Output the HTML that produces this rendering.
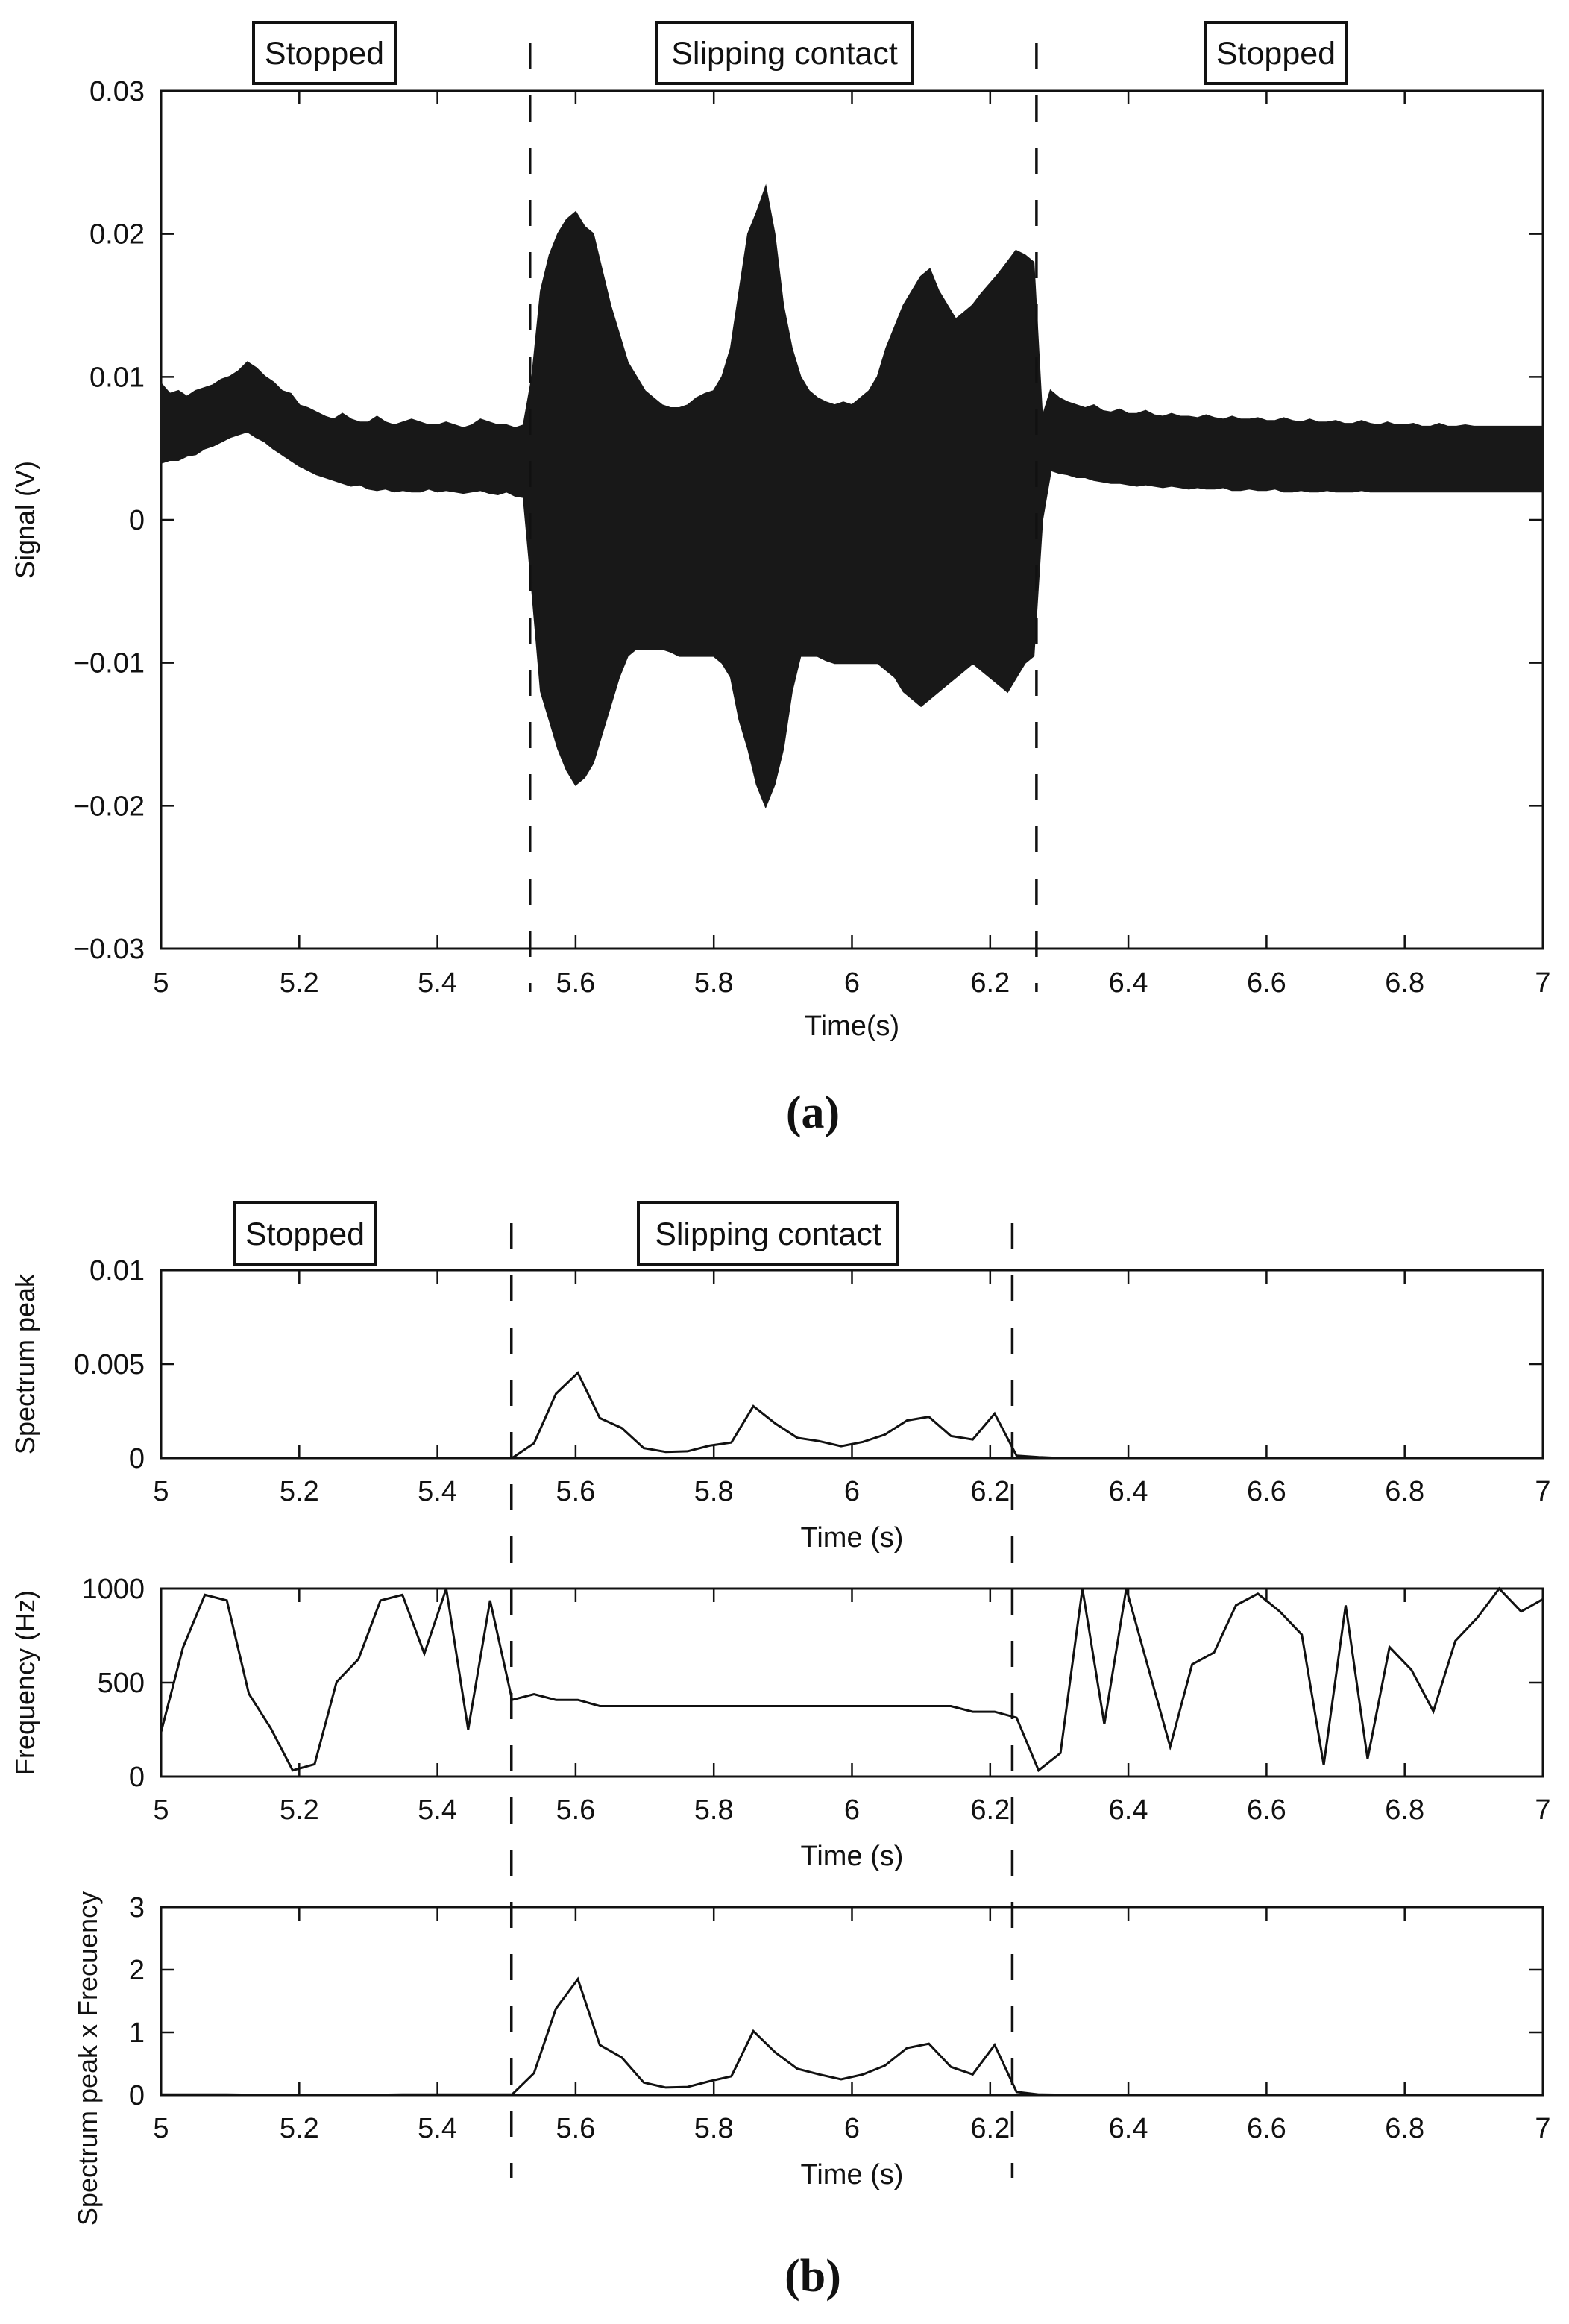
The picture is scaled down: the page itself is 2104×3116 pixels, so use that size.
<!DOCTYPE html>
<html><head><meta charset="utf-8"><style>
html,body{margin:0;padding:0;background:#fff}
svg{display:block}
text{font-family:"Liberation Sans",sans-serif;fill:#111}
</style></head><body>
<svg id="fig" width="2104" height="3116" viewBox="0 0 2104 3116" xmlns="http://www.w3.org/2000/svg"></svg>
<script>
// ---------- data ----------
const sigT0 = 5.0, sigDt = 0.0125;
const sigUpper = [.0095,.0088,.0090,.0086,.0090,.0092,.0094,.0098,.0100,.0104,.0110,.0106,.0100,.0096,.0090,.0088,.0080,.0078,.0075,.0072,.0070,.0074,.0070,.0068,.0068,.0072,.0068,.0066,.0068,.0070,.0068,.0066,.0066,.0068,.0066,.0064,.0066,.0070,.0068,.0066,.0066,.0064,.0066,
 .0100,.0160,.0185,.0200,.0210,.0215,.0205,.0200,.0175,.0150,.0130,.0110,.0100,.0090,.0085,.0080,.0078,.0078,.0080,.0085,.0088,.0090,.0100,.0120,.0160,.0200,.0215,.0232,.0200,.0150,.0120,.0100,.0090,.0085,.0082,.0080,.0082,.0080,.0085,.0090,.0100,.0120,.0135,.0150,.0160,.0170,.0175,.0160,.0150,.0140,.0145,.0150,.0158,.0165,.0172,.0180,.0188,.0185,.0180,
 .0070,.0090,.0085,.0082,.0080,.0078,.0080,.0076,.0075,.0077,.0074,.0074,.0076,.0073,.0072,.0074,.0072,.0072,.0071,.0073,.0071,.0070,.0072,.0070,.0070,.0071,.0069,.0069,.0071,.0069,.0068,.0070,.0068,.0068,.0069,.0067,.0067,.0069,.0067,.0066,.0068,.0066,.0066,.0067,.0065,.0065,.0067,.0065,.0065,.0066,.0065,.0065,.0065,.0065,.0065,.0065,.0065,.0065,.0065];
const sigLower = [.0040,.0042,.0042,.0045,.0046,.0050,.0052,.0055,.0058,.0060,.0062,.0058,.0055,.0050,.0046,.0042,.0038,.0035,.0032,.0030,.0028,.0026,.0024,.0025,.0022,.0021,.0022,.0020,.0021,.0020,.0020,.0022,.0020,.0021,.0020,.0019,.0020,.0021,.0019,.0018,.0020,.0017,.0016,
 -.0050,-.0120,-.0140,-.0160,-.0175,-.0185,-.0180,-.0170,-.0150,-.0130,-.0110,-.0095,-.0090,-.0090,-.0090,-.0090,-.0092,-.0095,-.0095,-.0095,-.0095,-.0095,-.0100,-.0110,-.0140,-.0160,-.0185,-.0200,-.0185,-.0160,-.0120,-.0095,-.0095,-.0095,-.0098,-.0100,-.0100,-.0100,-.0100,-.0100,-.0100,-.0105,-.0110,-.0120,-.0125,-.0130,-.0125,-.0120,-.0115,-.0110,-.0105,-.0100,-.0105,-.0110,-.0115,-.0120,-.0110,-.0100,-.0095,
 .0000,.0035,.0033,.0032,.0030,.0030,.0028,.0027,.0026,.0026,.0025,.0024,.0025,.0024,.0023,.0024,.0023,.0022,.0023,.0022,.0022,.0023,.0021,.0021,.0022,.0021,.0021,.0022,.0020,.0020,.0021,.0020,.0020,.0021,.0020,.0020,.0020,.0021,.0020,.0020,.0020,.0020,.0020,.0020,.0020,.0020,.0020,.0020,.0020,.0020,.0020,.0020,.0020,.0020,.0020,.0020,.0020,.0020,.0020];
const specT0 = 5.0, specDt = 0.03175;
const spectrumPeak = [0,0,0,0,0,0,0,0,0,0,0,0,0,0,0,0,0,.00079,.00342,.00454,.00213,.0016,.00053,.00033,.00036,.00066,.00083,.00276,.00184,.00108,.0009,.00063,.00086,.00125,.0020,.0022,.00118,.00099,.00237,.00013,.00005,0,0,0,0,0,0,0,0,0,0,0,0,0,0,0,0,0,0,0,0,0,0,0];
const frequency = [237,687,967,937,441,257,33,66,503,625,937,967,654,1000,250,937,408,438,408,408,375,375,375,375,375,375,375,375,375,375,375,375,375,375,375,375,375,345,345,313,33,125,1000,279,1000,580,159,597,660,911,973,878,755,61,911,94,689,568,347,722,845,1000,878,944];
const product = [.01,.01,.01,.01,.005,.005,.005,.005,.005,.005,.005,.01,.01,.01,.01,.01,.01,.35,1.38,1.85,.8,.6,.2,.12,.13,.22,.3,1.02,.68,.42,.33,.25,.33,.47,.75,.82,.45,.33,.8,.05,.01,.005,.005,.005,.005,.005,.005,.005,.005,.005,.005,.005,.005,.005,.005,.005,.005,.005,.005,.005,.005,.005,.005,.005];
const xTicks = [5,5.2,5.4,5.6,5.8,6,6.2,6.4,6.6,6.8,7];
const xTickLabels = ["5","5.2","5.4","5.6","5.8","6","6.2","6.4","6.6","6.8","7"];
const sigYTicks = [-0.03,-0.02,-0.01,0,0.01,0.02,0.03];
const sigYLabels = ["\u22120.03","\u22120.02","\u22120.01","0","0.01","0.02","0.03"];
const specYTicks=[0,0.005,0.01], specYLabels=["0","0.005","0.01"];
const freqYTicks=[0,500,1000], freqYLabels=["0","500","1000"];
const prodYTicks=[0,1,2,3], prodYLabels=["0","1","2","3"];
const dashA = [5.534, 6.267];
const dashB = [5.507, 6.232];

// ---------- drawing ----------
const NS="http://www.w3.org/2000/svg";
const svg=document.getElementById('fig');
function el(tag,attrs,parent){const e=document.createElementNS(NS,tag);for(const k in attrs)e.setAttribute(k,attrs[k]);(parent||svg).appendChild(e);return e;}
function txt(s,attrs,parent){const e=el('text',attrs,parent);e.textContent=s;return e;}
const L=216,R=2069;
const xs=t=>L+(t-5)/2*(R-L);

function axes(name,top,bot,ymin,ymax,yt,yl,tickLabelY,xTitle,xTitleY){
  const g=el('g',{});
  
  
  const ys=v=>bot-(v-ymin)/(ymax-ymin)*(bot-top);
  el('rect',{x:L,y:top,width:R-L,height:bot-top,fill:'none',stroke:'#111','stroke-width':3},g);
  xTicks.forEach((t,i)=>{
    const x=xs(t);
    el('line',{x1:x,y1:bot,x2:x,y2:bot-18,stroke:'#111','stroke-width':2.5},g);
    el('line',{x1:x,y1:top,x2:x,y2:top+18,stroke:'#111','stroke-width':2.5},g);
    const tl=txt(xTickLabels[i],{x:x,y:tickLabelY,'font-size':38,'text-anchor':'middle'},g);
    
    
  });
  yt.forEach((v,i)=>{
    const y=ys(v);
    el('line',{x1:L,y1:y,x2:L+18,y2:y,stroke:'#111','stroke-width':2.5},g);
    el('line',{x1:R,y1:y,x2:R-18,y2:y,stroke:'#111','stroke-width':2.5},g);
    const tl=txt(yl[i],{x:L-22,y:y+13,'font-size':38,'text-anchor':'end'},g);
    
    
  });
  const xt=txt(xTitle,{x:(L+R)/2,y:xTitleY,'font-size':38,'text-anchor':'middle'},g);
  
  
  return {g,ys};
}
function yTitle(s,x,y,size){
  const t=txt(s,{x:x,y:y,'font-size':size,'text-anchor':'middle',transform:`rotate(-90 ${x} ${y})`});
  
  
}
function box(s,x1,x2,y1,y2,name){
  const g=el('g',{});
  
  
  el('rect',{x:x1,y:y1,width:x2-x1,height:y2-y1,fill:'#fff',stroke:'#111','stroke-width':4},g);
  txt(s,{x:(x1+x2)/2,y:(y1+y2)/2+15,'font-size':43,'text-anchor':'middle'},g);
}
function dashed(t,y1,y2,name){
  const d=el('line',{x1:xs(t),y1:y1,x2:xs(t),y2:y2,stroke:'#111','stroke-width':3.5,'stroke-dasharray':'35 35'});
  
  
}
function line(arr,t0,dt,ys,name){
  const pts=arr.map((v,i)=>xs(t0+i*dt).toFixed(1)+','+ys(v).toFixed(1)).join(' ');
  const p=el('polyline',{points:pts,fill:'none',stroke:'#111','stroke-width':3,'stroke-linejoin':'miter'});
  
  
}

// Panel (a)
const A=axes('signal-axes',122,1272,-0.03,0.03,sigYTicks,sigYLabels,1330,'Time(s)',1388);
yTitle('Signal (V)',46,697,36);
{
  const up=sigUpper.map((v,i)=>xs(sigT0+i*sigDt).toFixed(1)+','+A.ys(v).toFixed(1));
  const lo=sigLower.map((v,i)=>xs(sigT0+i*sigDt).toFixed(1)+','+A.ys(v).toFixed(1)).reverse();
  const p=el('polygon',{points:up.concat(lo).join(' '),fill:'#181818',stroke:'#181818','stroke-width':3,'stroke-linejoin':'miter'});
  
  
}
dashed(dashA[0],58,1330,'boundary-start-a');
dashed(dashA[1],58,1330,'boundary-end-a');
box('Stopped',340,530,30,112,'label-stopped-left-a');
box('Slipping contact',880,1224,30,112,'label-slipping-a');
box('Stopped',1616,1806,30,112,'label-stopped-right-a');
{const t=txt('(a)',{x:1090,y:1512,'font-size':62,'font-weight':'bold','text-anchor':'middle',style:'font-family:"Liberation Serif",serif'});
}

// Panel (b)
const B1=axes('spectrum-axes',1703,1955,0,0.01,specYTicks,specYLabels,2012,'Time (s)',2074);
yTitle('Spectrum peak',46,1829,36);
line(spectrumPeak,specT0,specDt,B1.ys,'spectrum-peak-line');
const B2=axes('frequency-axes',2130,2382,0,1000,freqYTicks,freqYLabels,2439,'Time (s)',2501);
yTitle('Frequency (Hz)',46,2256,36);
line(frequency,specT0,specDt,B2.ys,'frequency-line');
const B3=axes('product-axes',2557,2809,0,3,prodYTicks,prodYLabels,2866,'Time (s)',2928);
yTitle('Spectrum peak x Frecuency',130,2760,36);
line(product,specT0,specDt,B3.ys,'product-line');
dashed(dashB[0],1640,2920,'boundary-start-b');
dashed(dashB[1],1640,2920,'boundary-end-b');
box('Stopped',314,504,1612,1696,'label-stopped-b');
box('Slipping contact',856,1204,1612,1696,'label-slipping-b');
{const t=txt('(b)',{x:1090,y:3072,'font-size':62,'font-weight':'bold','text-anchor':'middle',style:'font-family:"Liberation Serif",serif'});
}
</script>
</body></html>
